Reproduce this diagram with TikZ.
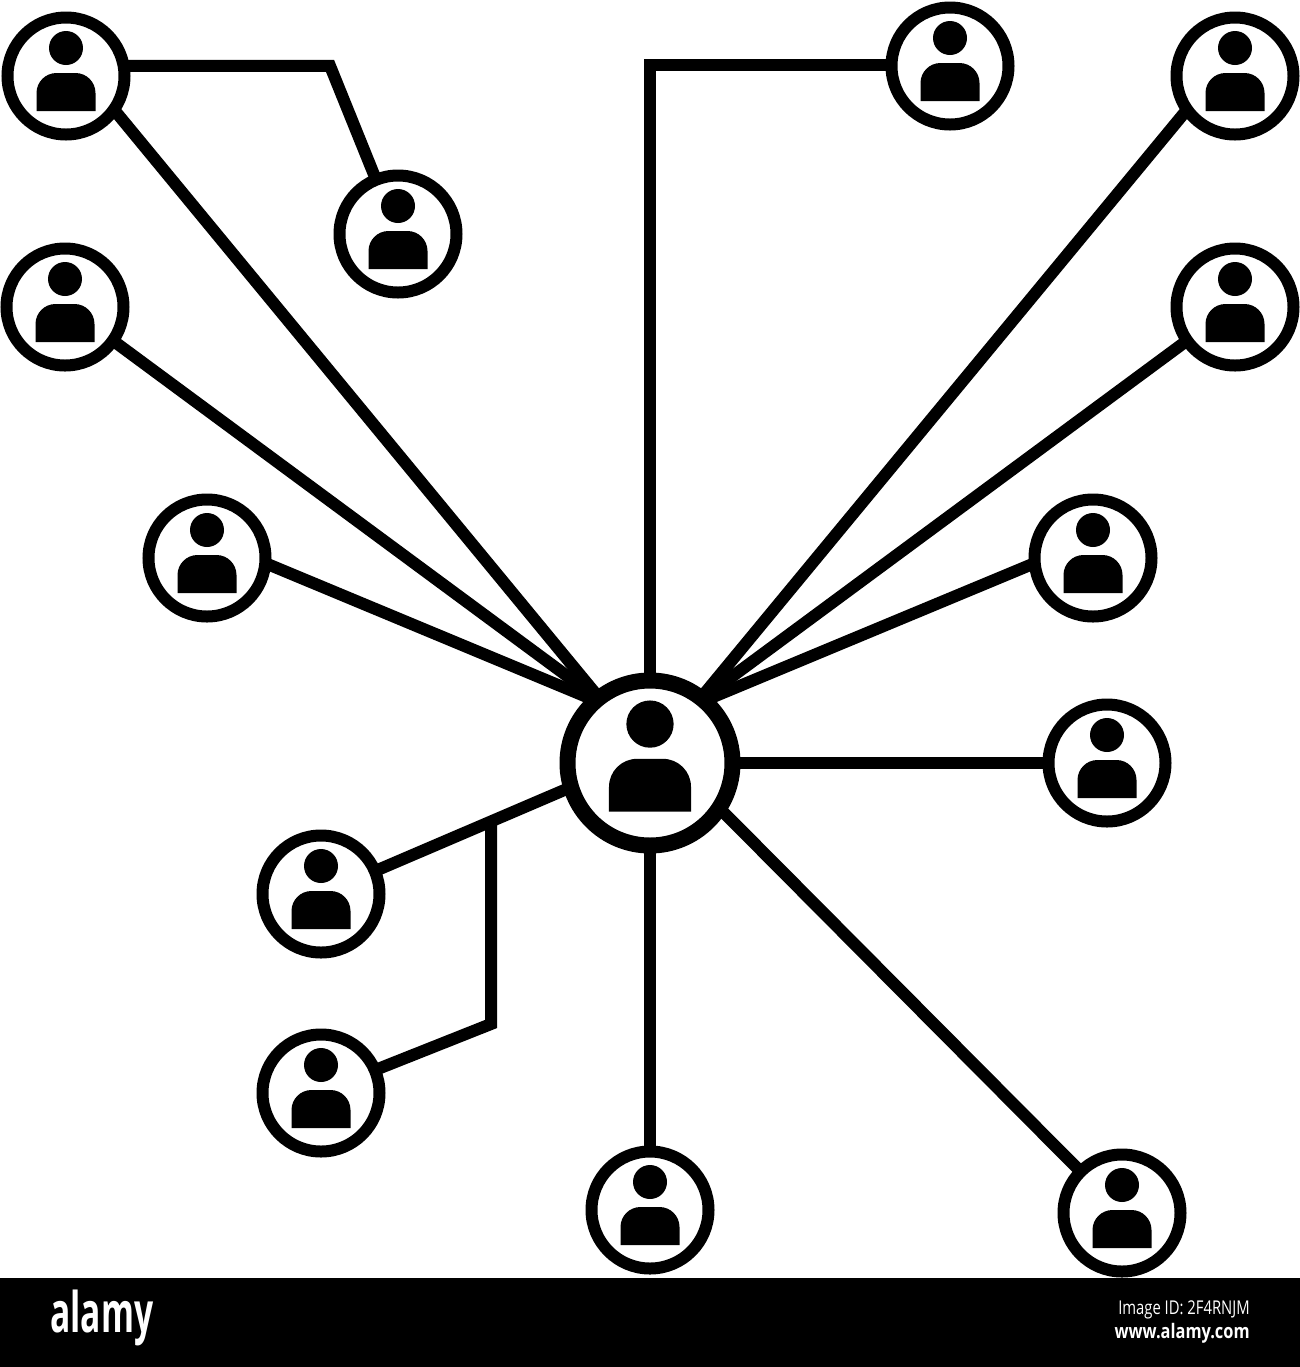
\documentclass[tikz,border=0pt]{standalone}
\usepackage{fontspec}
\setmainfont{Open Sans}
\usetikzlibrary{calc}
\newcommand{\usericon}[2]{%
  \begin{scope}[shift={(path picture bounding box.center)}, x=#1, y=-#1]
    \fill[black] (0,-28) circle (17);
    \fill[black] (-29.5,35) [rounded corners=#2] -- (-29.5,-3) -- (29.5,-3) [sharp corners] -- (29.5,35) -- cycle;
  \end{scope}}

\begin{document}
\begin{tikzpicture}[
    x=0.5pt, y=-0.5pt,
    user/.style={circle, draw=black, fill=white, line width=6pt, minimum size=58.5pt, inner sep=0pt, outer sep=0pt, path picture={\usericon{0.5pt}{10pt}}},
    hub/.style={circle, draw=black, fill=white, line width=8pt, minimum size=82.5pt, inner sep=0pt, outer sep=0pt, path picture={\usericon{0.695pt}{14pt}}},
    link/.style={line width=6pt},
    stamp/.style={text=white, inner sep=0pt, anchor=base east, transform shape}
]
    \useasboundingbox (0,0) rectangle (1300,1367);

    % Center
    \node[hub] (center) at (650,763) {};

    % Users
    \foreach \name/\px/\py in {topleft/66/76, innerleft/398/234, topmid/950/66, topright/1235/76,
        upleft/65/307, upright/1235/307, midleft/207/558, midright/1093/558, right/1107/763,
        lowleft/321/894, baseleft/321/1093, bottom/650/1210, lowright/1122/1213}
        \node[user] (\name) at (\px,\py) {};

    % Left fan
    \draw[link] (topleft.-35) -- (center.128);
    \draw[link] (upleft.-35) -- (center.129);
    \draw[link] (midleft.-5) -- (center.131);

    % Right fan
    \draw[link] (topright.215) -- (center.52);
    \draw[link] (upright.215) -- (center.51);
    \draw[link] (midright.185) -- (center.49);

    % Elbows
    \coordinate (kneetop) at (330,65.8);
    \draw[link] (topleft.10) -- (kneetop) -- (innerleft);
    \coordinate (kneemid) at (650,65);
    \draw[link] (center.north) -- (kneemid) -- (topmid.west |- kneemid);

    % Straight ones
    \draw[link] (center.east) -- (right.west);
    \draw[link] (center.south) -- (bottom.north);
    \draw[link] (center.-33) -- (lowright.135);
    \draw[link] (center.197) -- (lowleft.23);

    % Branch
    \coordinate (tee) at (491,822);
    \coordinate (kneelow) at (491,1024);
    \draw[link] (tee) -- (kneelow) -- (baseleft.23);

    % Footer
    \fill[black] (0,1278) rectangle (1300,1367);
    \node[stamp, font=\bfseries\fontsize{28}{28}\selectfont, xscale=0.6, anchor=base west] (brand) at (50,1332) {alamy};
    \node[stamp, font=\fontsize{9.5}{10}\selectfont, xscale=0.78] (imageid) at (1250,1314) {Image ID: 2F4RNJM};
    \node[stamp, font=\bfseries\fontsize{10}{10}\selectfont, xscale=0.82] (website) at (1250,1338) {www.alamy.com};
\end{tikzpicture}
\end{document}
